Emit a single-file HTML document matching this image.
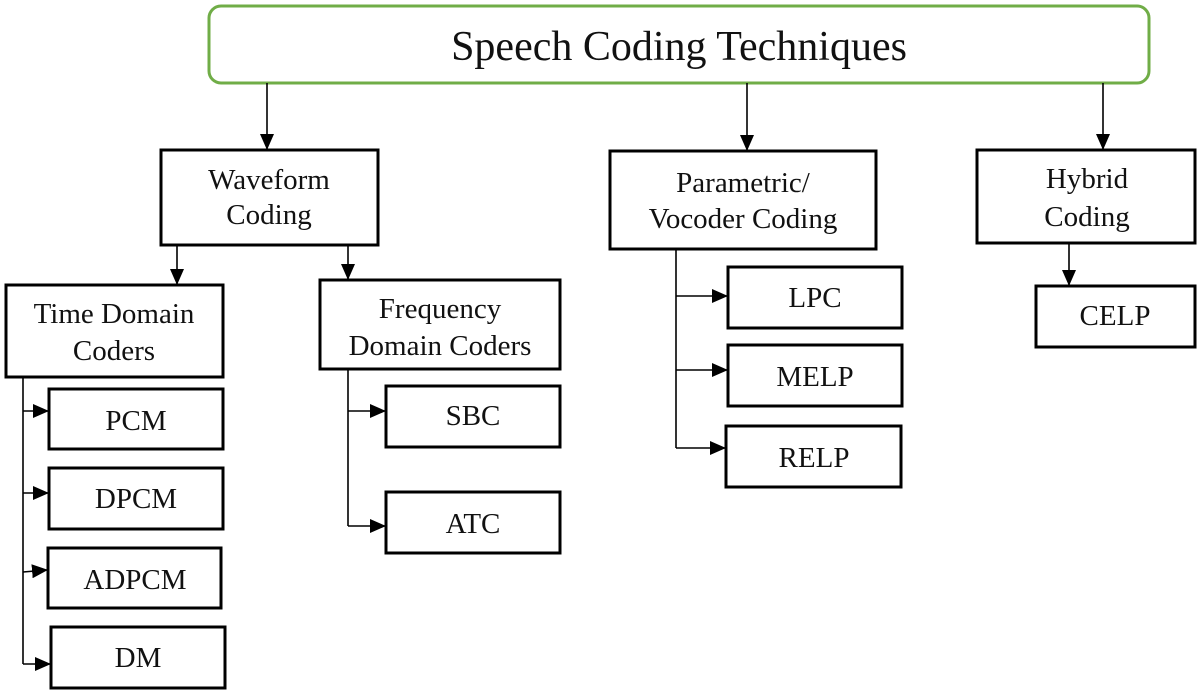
<!DOCTYPE html>
<html><head><meta charset="utf-8"><style>
html,body{margin:0;padding:0;background:#fff;width:1200px;height:694px;overflow:hidden}
text{font-family:"Liberation Serif","Times New Roman",serif;fill:#111;text-anchor:middle}
</style></head><body>
<svg width="1200" height="694" viewBox="0 0 1200 694" xmlns="http://www.w3.org/2000/svg">
<defs><marker id="a" markerWidth="16" markerHeight="14" refX="15" refY="7" orient="auto" markerUnits="userSpaceOnUse"><path d="M0,0 L16,7 L0,14 Z" fill="#000"/></marker></defs>
<rect x="209" y="6" width="940" height="77" rx="12" fill="#fff" stroke="#70ad47" stroke-width="3"/>
<text x="679" y="60" font-size="42">Speech Coding Techniques</text>
<g stroke="#000" stroke-width="1.6" fill="none">
<line x1="267" y1="83" x2="267" y2="149" marker-end="url(#a)"/>
<line x1="747" y1="83" x2="747" y2="150" marker-end="url(#a)"/>
<line x1="1103" y1="83" x2="1103" y2="149" marker-end="url(#a)"/>
<line x1="177" y1="245" x2="177" y2="284" marker-end="url(#a)"/>
<line x1="348" y1="245" x2="348" y2="279" marker-end="url(#a)"/>
<line x1="1069" y1="243" x2="1069" y2="285" marker-end="url(#a)"/>
<polyline points="23,368 23,664"/>
<line x1="23" y1="411" x2="48" y2="411" marker-end="url(#a)"/>
<line x1="23" y1="493" x2="48" y2="493" marker-end="url(#a)"/>
<line x1="23" y1="572" x2="47" y2="570" marker-end="url(#a)"/>
<line x1="23" y1="664" x2="50" y2="664" marker-end="url(#a)"/>
<polyline points="348,369 348,526"/>
<line x1="348" y1="411" x2="385" y2="411" marker-end="url(#a)"/>
<line x1="348" y1="526" x2="385" y2="526" marker-end="url(#a)"/>
<polyline points="676,249 676,448"/>
<line x1="676" y1="296" x2="727" y2="296" marker-end="url(#a)"/>
<line x1="676" y1="370" x2="727" y2="370" marker-end="url(#a)"/>
<line x1="676" y1="448" x2="725" y2="448" marker-end="url(#a)"/>
</g>
<g stroke="#000" stroke-width="3" fill="#fff">
<rect x="161" y="150" width="217" height="95"/>
<rect x="610" y="151" width="266" height="98"/>
<rect x="977" y="150" width="218" height="93"/>
<rect x="6" y="285" width="217" height="92"/>
<rect x="320" y="280" width="240" height="89"/>
<rect x="1036" y="286" width="159" height="61"/>
<rect x="49" y="389" width="174" height="60"/>
<rect x="49" y="468" width="174" height="61"/>
<rect x="48" y="548" width="173" height="60"/>
<rect x="51" y="627" width="174" height="61"/>
<rect x="386" y="386" width="174" height="61"/>
<rect x="386" y="492" width="174" height="61"/>
<rect x="728" y="267" width="174" height="61"/>
<rect x="728" y="345" width="174" height="61"/>
<rect x="726" y="426" width="175" height="61"/>
</g>
<g font-size="29">
<text x="269" y="189">Waveform</text><text x="269" y="224">Coding</text>
<text x="743" y="192">Parametric/</text><text x="743" y="228">Vocoder Coding</text>
<text x="1087" y="188">Hybrid</text><text x="1087" y="226">Coding</text>
<text x="114" y="323">Time Domain</text><text x="114" y="360">Coders</text>
<text x="440" y="318">Frequency</text><text x="440" y="355">Domain Coders</text>
<text x="1115" y="325">CELP</text>
<text x="136" y="430">PCM</text>
<text x="136" y="508">DPCM</text>
<text x="135" y="589">ADPCM</text>
<text x="138" y="667">DM</text>
<text x="473" y="425">SBC</text>
<text x="473" y="533">ATC</text>
<text x="815" y="307">LPC</text>
<text x="815" y="386">MELP</text>
<text x="814" y="467">RELP</text>
</g>
</svg>
</body></html>
